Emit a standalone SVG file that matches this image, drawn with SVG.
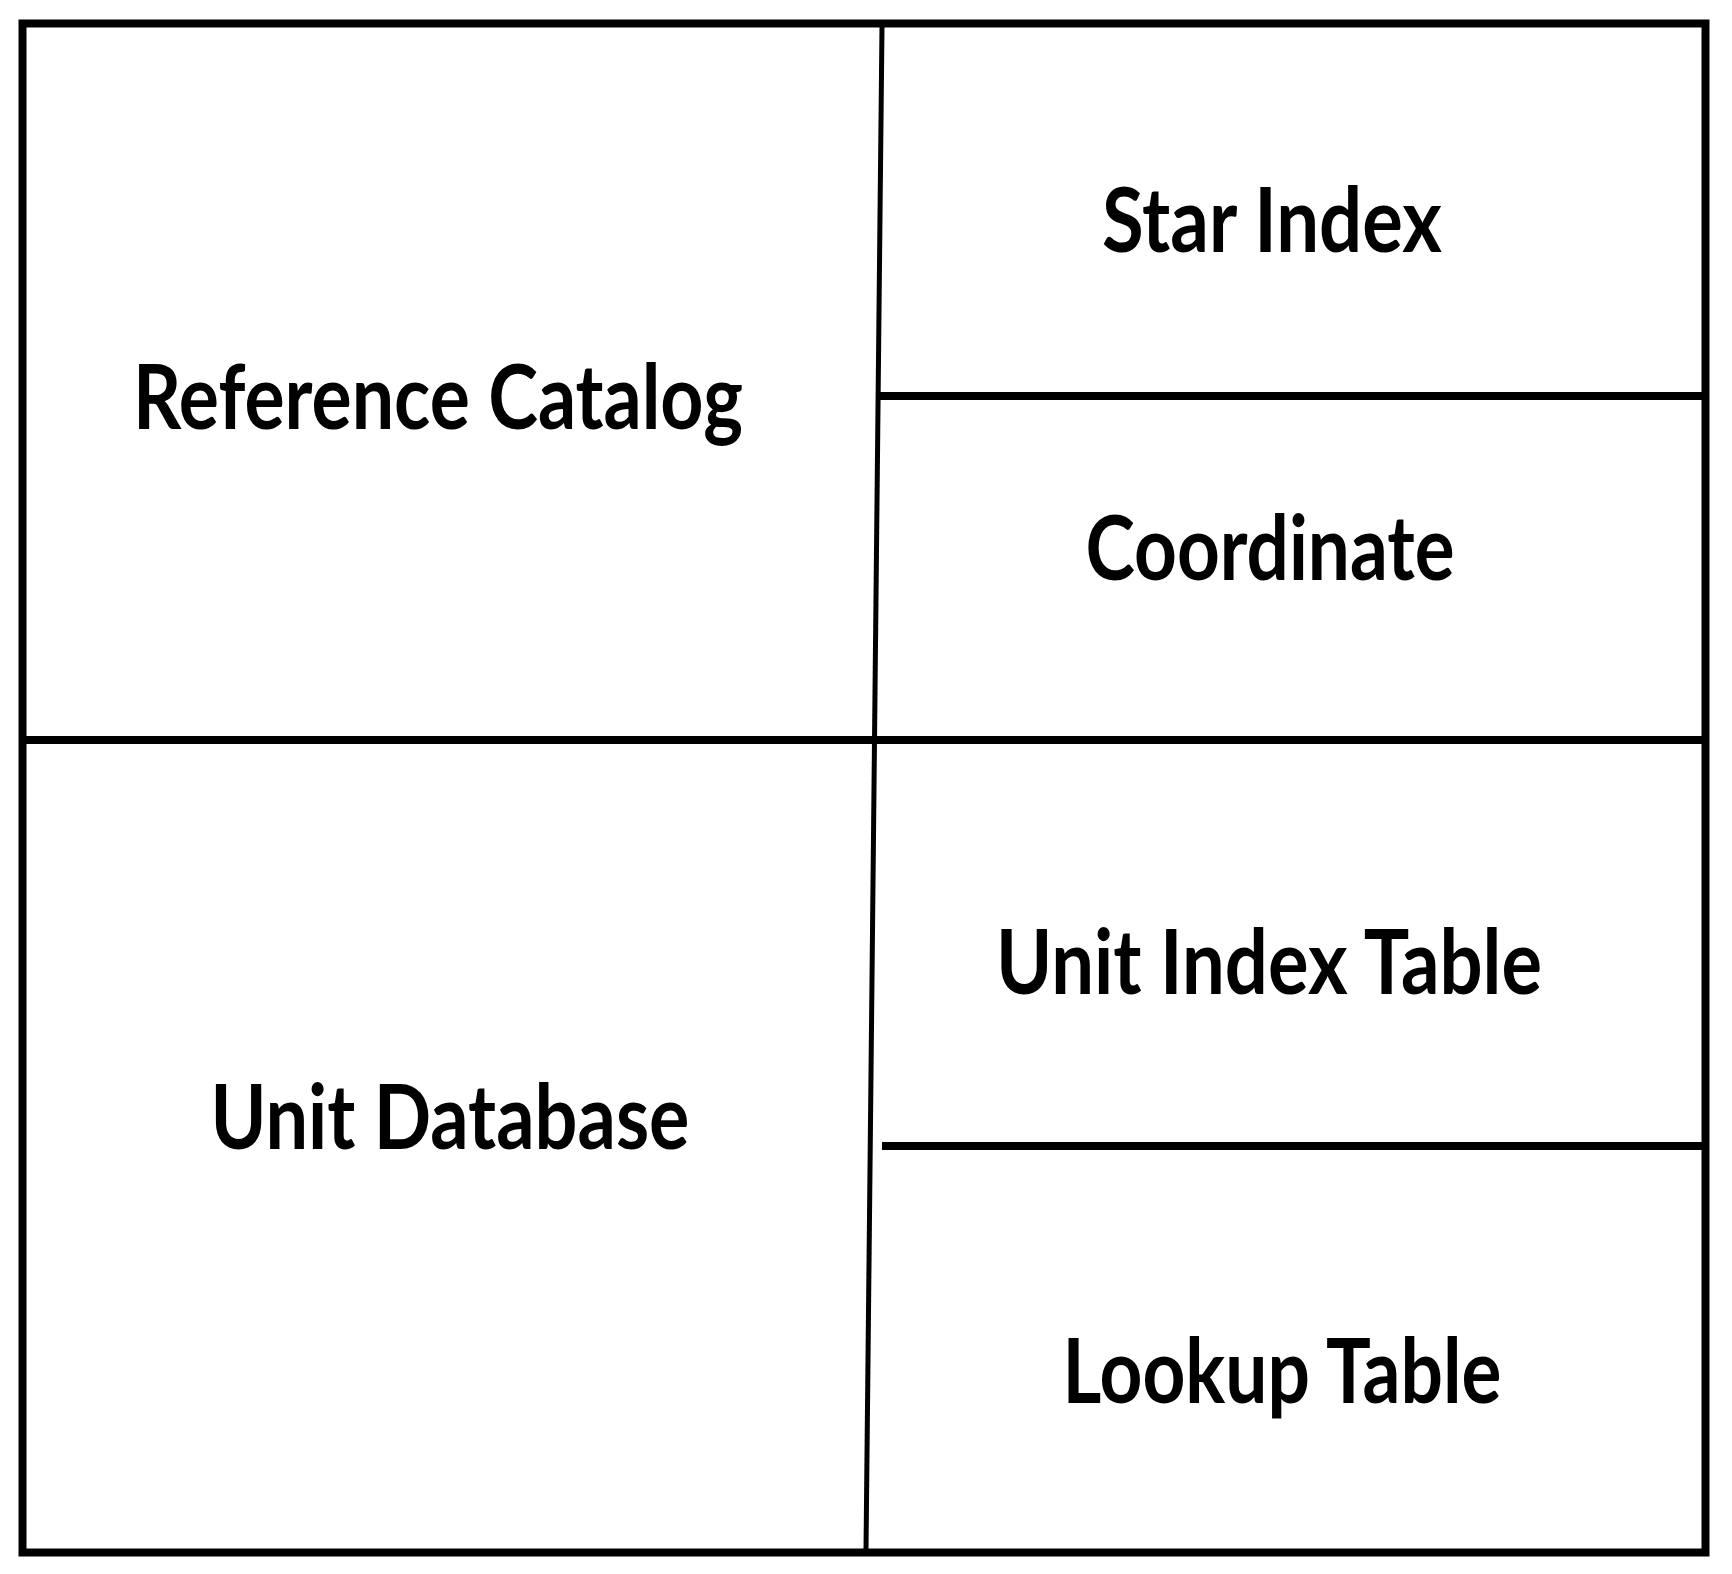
<svg xmlns="http://www.w3.org/2000/svg" width="1732" height="1574" viewBox="0 0 1732 1574">
  <style>
    .frame { fill: none; stroke: #000; stroke-width: 8; }
    .rule { stroke: #000; stroke-width: 8; fill: none; }
    .thin { stroke: #000; stroke-width: 5; fill: none; }
    .lbl { font-family: Lato, "Liberation Sans", sans-serif; font-weight: bold; font-size: 90px; fill: #000; text-anchor: middle; }
  </style>
  <rect x="0" y="0" width="1732" height="1574" fill="#fff"/>
  <g id="connectors">
    <rect class="frame" x="22.5" y="23.5" width="1683" height="1529"/>
    <line class="rule" x1="22" y1="740" x2="1706" y2="740"/>
    <line class="thin" x1="882" y1="26" x2="866" y2="1550"/>
    <line class="rule" x1="879" y1="396" x2="1706" y2="396"/>
    <line class="rule" x1="882" y1="1146" x2="1706" y2="1146"/>
  </g>
  <g id="reference-catalog">
    <text class="lbl" x="438" y="429" textLength="610" lengthAdjust="spacingAndGlyphs">Reference Catalog</text>
  </g>
  <g id="star-index">
    <text class="lbl" x="1272" y="252" textLength="340" lengthAdjust="spacingAndGlyphs">Star Index</text>
  </g>
  <g id="coordinate">
    <text class="lbl" x="1270" y="580" textLength="369" lengthAdjust="spacingAndGlyphs">Coordinate</text>
  </g>
  <g id="unit-database">
    <text class="lbl" x="450" y="1149" textLength="479" lengthAdjust="spacingAndGlyphs">Unit Database</text>
  </g>
  <g id="unit-index-table">
    <text class="lbl" x="1269" y="994" textLength="546" lengthAdjust="spacingAndGlyphs">Unit Index Table</text>
  </g>
  <g id="lookup-table">
    <text class="lbl" x="1282" y="1403" textLength="439" lengthAdjust="spacingAndGlyphs">Lookup Table</text>
  </g>
</svg>
